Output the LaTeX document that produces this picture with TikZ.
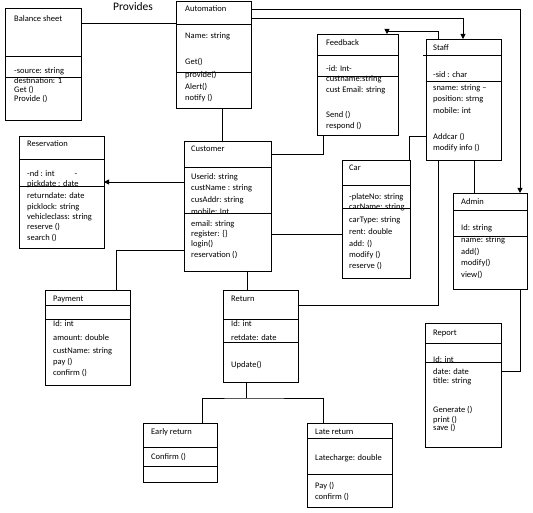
\documentclass[tikz,border=0pt]{standalone}
\usepackage{fontspec}
\setmainfont{Carlito}
\usetikzlibrary{arrows.meta,calc}
\tikzset{
  ln/.style={line width=0.8pt, black},
  box/.style={draw, ln, rectangle, inner sep=0pt, outer sep=0pt, anchor=north west},
  txt/.style={anchor=west, inner sep=0pt, font=\fontsize{8.5}{10}\selectfont},
  arr/.style={ln, -{Triangle[length=5pt,width=5pt]}}
}
\newcommand{\umlbox}[5]{\node[box, minimum width={(#4-#2)*1pt}, minimum height={(#5-#3)*1pt}] (#1) at (#2,#3) {};}
\newcommand{\divl}[2]{\draw[ln] (#1.west |- 0,#2) -- (#1.east |- 0,#2);}
\newcommand{\tl}[4]{\node[txt] (#1) at (#2,#3) {#4};}
\begin{document}
\begin{tikzpicture}[x=1pt,y=-1pt]
\useasboundingbox[fill=white] (0,0) rectangle (533,513);

% Balance sheet
\umlbox{bs}{5}{8}{81}{120}
\divl{bs}{56}\divl{bs}{77}
\tl{bs0}{14}{19}{Balance sheet}
\tl{bs1}{14}{71}{-source: string}
\tl{bs2}{14}{81}{destination: 1}
\tl{bs3}{14}{90}{Get ()}
\tl{bs4}{14}{99}{Provide ()}

\node[inner sep=0pt, font=\fontsize{11.5}{13}\selectfont] (prov) at (133,7) {Provides};

% Automation
\umlbox{auto}{176}{1}{251}{108}
\divl{auto}{24}\divl{auto}{72}
\tl{au0}{185}{9}{Automation}
\tl{au1}{185}{36}{Name: string}
\tl{au2}{185}{62}{Get()}
\tl{au3}{185}{75}{provide()}
\tl{au4}{185}{87}{Alert()}
\tl{au5}{185}{98}{notify ()}

% Feedback
\umlbox{fb}{317}{34}{398}{135}
\divl{fb}{55}\divl{fb}{76}
\tl{fb0}{326}{43}{Feedback}
\tl{fb1}{326}{69}{-id: Int-}
\tl{fb2}{326}{79}{custname:string}
\tl{fb3}{326}{90}{cust Email: string}
\tl{fb4}{326}{115}{Send ()}
\tl{fb5}{326}{126}{respond ()}

% Staff
\umlbox{staff}{426}{39}{501}{160}
\draw[ln] (423,55) -- (staff.east |- 0,55);
\divl{staff}{81}
\tl{st0}{433}{48}{Staff}
\tl{st1}{433}{75}{-sid : char}
\tl{st2}{433}{88}{sname: string –}
\tl{st3}{433}{99}{position: strng}
\tl{st4}{433}{111}{mobile: int}
\tl{st5}{433}{137}{Addcar ()}
\tl{st6}{433}{148}{modify info ()}

% Reservation
\umlbox{res}{19}{136}{104}{248}
\divl{res}{159}\divl{res}{186}
\tl{re0}{27}{144}{Reservation}
\tl{re1}{27}{174}{-nd : int \hspace{16pt} -}
\tl{re2}{27}{184}{pickdate : date}
\tl{re3}{27}{196}{returndate: date}
\tl{re4}{27}{207}{picklock: string}
\tl{re5}{27}{217}{vehicleclass: string}
\tl{re6}{27}{227}{reserve ()}
\tl{re7}{27}{238}{search ()}

% Customer
\umlbox{cust}{184}{141}{271}{271}
\divl{cust}{167}
\tl{cu0}{191}{149}{Customer}
\tl{cu1}{191}{177}{Userid: string}
\tl{cu2}{191}{188}{custName : string}
\tl{cu3}{191}{200}{cusAddr: string}
\tl{cu4}{191}{212}{mobile: Int}
\divl{cust}{213}
\tl{cu5}{191}{224}{email: string}
\tl{cu6}{191}{234}{register: \{\}}
\tl{cu7}{191}{244}{login()}
\tl{cu8}{191}{255}{reservation ()}

% Car
\umlbox{car}{342}{160}{410}{278}
\divl{car}{185}
\tl{ca0}{349}{168}{Car}
\tl{ca1}{349}{197}{-plateNo: string}
\tl{ca2}{349}{207}{carName: string}
\divl{car}{208}
\tl{ca3}{349}{220}{carType: string}
\tl{ca4}{349}{232}{rent: double}
\tl{ca5}{349}{244}{add: ()}
\tl{ca6}{349}{255}{modify ()}
\tl{ca7}{349}{266}{reserve ()}

% Admin
\umlbox{admin}{453}{193}{527}{289}
\divl{admin}{210}\divl{admin}{236}
\tl{ad0}{461}{202}{Admin}
\tl{ad1}{461}{228}{Id: string}
\tl{ad2}{461}{240}{name: string}
\tl{ad3}{461}{252}{add()}
\tl{ad4}{461}{263}{modify()}
\tl{ad5}{461}{275}{view()}

% Payment
\umlbox{pay}{45}{290}{130}{385}
\divl{pay}{305}\divl{pay}{319}
\tl{pa0}{53}{299}{Payment}
\tl{pa1}{53}{324}{Id: int}
\tl{pa2}{53}{338}{amount: double}
\tl{pa3}{53}{351}{custName: string}
\tl{pa4}{53}{362}{pay ()}
\tl{pa5}{53}{373}{confirm ()}

% Return
\umlbox{ret}{223}{290}{298}{382}
\divl{ret}{319}\divl{ret}{342}
\tl{rt0}{231}{299}{Return}
\tl{rt1}{231}{324}{Id: int}
\tl{rt2}{231}{338}{retdate: date}
\tl{rt3}{231}{365}{Update()}

% Report
\umlbox{rep}{425}{323}{501}{447}
\divl{rep}{343}
\tl{rp0}{433}{333}{Report}
\tl{rp1}{433}{360}{Id: int}
\divl{rep}{362}
\tl{rp2}{433}{372}{date: date}
\tl{rp3}{433}{381}{title: string}
\tl{rp4}{433}{410}{Generate ()}
\tl{rp5}{433}{420}{print ()}
\tl{rp6}{433}{428}{save ()}

% Early return
\umlbox{early}{143}{423}{217}{482}
\divl{early}{447}\divl{early}{466}
\tl{er0}{151}{432}{Early return}
\tl{er1}{151}{457}{Confirm ()}

% Late return
\umlbox{late}{307}{423}{392}{507}
\divl{late}{438}\divl{late}{474}
\tl{lr0}{315}{432}{Late return}
\tl{lr1}{315}{458}{Latecharge: double}
\tl{lr2}{315}{486}{Pay ()}
\tl{lr3}{315}{497}{confirm ()}

% connectors
\coordinate (b1) at (438,31);
\coordinate (rj) at (246,398);
\draw[ln] (bs.east |- 0,23) -- (auto.west |- 0,23);
\draw[arr] (auto.east |- 0,18) -| (staff.north -| 463,0);
\draw[arr] (auto.east |- 0,9) -| (admin.north -| 520,0);
\draw[arr] (staff.north -| b1) -- (b1) -| (fb.north -| 387,0);
\draw[ln] (fb.south -| 323,0) |- (cust.east |- 0,154);
\draw[ln] (staff.west |- 0,136) -| (car.north -| 409,0);
\draw[ln] (staff.south -| 438,0) |- (ret.east |- 0,305);
\draw[ln] (staff.south -| 474,0) -- (admin.north -| 474,0);
\draw[arr] (cust.west |- 0,182) -- (res.east |- 0,182);
\draw[ln] (cust.north -| 222,0) -- (auto.south -| 222,0);
\draw[ln] (cust.east |- 0,234) -- (car.west |- 0,234);
\draw[ln] (cust.west |- 0,250) -| (pay.north -| 116,0);
\draw[ln] (cust.south -| 247,0) -- (ret.north -| 247,0);
\draw[ln] (ret.south -| rj) -- (rj);
\draw[ln] (early.north -| 202,0) |- (rj) -| (late.north -| 323,0);
\draw[ln] (admin.south -| 520,0) |- (rep.east |- 0,371);
\end{tikzpicture}
\end{document}
